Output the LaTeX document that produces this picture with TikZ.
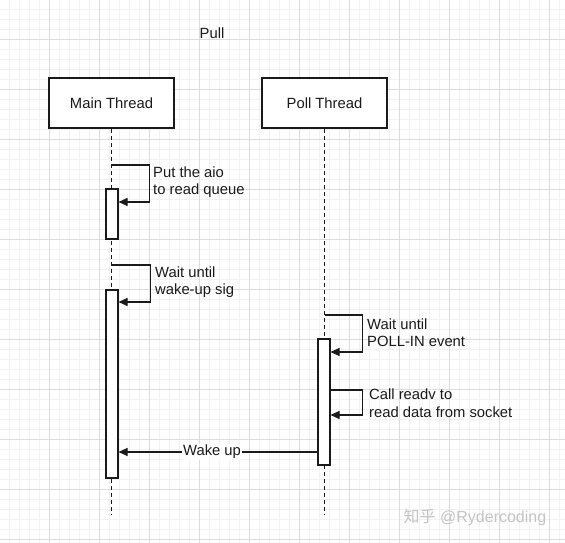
\documentclass[tikz,border=0pt]{standalone}
\usepackage{fontspec}
\setmainfont{Liberation Sans}
\newfontfamily\cjk{Noto Sans CJK SC}
\usetikzlibrary{arrows.meta}
\definecolor{gminor}{HTML}{F1F1F1}
\definecolor{gmajor}{HTML}{DCDCDC}
\definecolor{ink}{HTML}{1A1A1A}
\definecolor{wm}{HTML}{C4C4C4}
\begin{document}
\begin{tikzpicture}[x=1pt,y=-1pt,
  minorgrid/.style={draw=gminor,line width=0.5pt},
  majorgrid/.style={draw=gmajor,line width=0.7pt},
  thread/.style={draw=ink,fill=white,line width=1.1pt,minimum width=125pt,minimum height=50pt,inner sep=0pt,font=\fontsize{14.8pt}{17.5pt}\selectfont,text=ink},
  act/.style={draw=ink,fill=white,line width=1.1pt,minimum width=12pt,inner sep=0pt},
  life/.style={draw=ink,line width=1.1pt,dash pattern=on 4pt off 3pt},
  msg/.style={draw=ink,line width=1.1pt,-{Triangle[length=9pt,width=8pt]}},
  lbl/.style={inner sep=0pt,align=left,anchor=west,font=\fontsize{14.8pt}{17.5pt}\selectfont,text=ink}
]
\useasboundingbox (0,0) rectangle (565,543);
\fill[white] (0,0) rectangle (565,543);
% grid
\foreach \x in {9,19,...,559} \draw[minorgrid] (\x,0) -- (\x,543);
\foreach \y in {9,19,...,539} \draw[minorgrid] (0,\y) -- (565,\y);
\foreach \x in {49,99,...,549} \draw[majorgrid] (\x,0) -- (\x,543);
\foreach \y in {39,89,...,539} \draw[majorgrid] (0,\y) -- (565,\y);

% title
\node[lbl,anchor=center] (title) at (212,33) {Pull};

% thread boxes
\node[thread] (main) at (111.5,103) {Main Thread};
\node[thread] (poll) at (324.5,103) {Poll Thread};

% lifelines
\coordinate (mainend) at (111.5,515);
\coordinate (pollend) at (324.5,515);
\draw[life] (main.south) -- (mainend);
\draw[life] (poll.south) -- (pollend);

% activations
\node[act,minimum height=50pt] (a1) at (112,214) {};
\node[act,minimum height=188pt] (a2) at (112,384) {};
\node[act,minimum height=126pt] (p1) at (324,402) {};

% self message 1
\coordinate (s1) at (111.5,165);
\draw[msg] (s1) -- ++(38,0) -- ++(0,37) coordinate (k1) -- (k1 -| a1.east);
\node[lbl] (l1) at (153,182) {Put the aio\\to read queue};

% self message 2
\coordinate (s2) at (111.5,265);
\draw[msg] (s2) -- ++(39,0) -- ++(0,37) coordinate (k2) -- (k2 -| a2.east);
\node[lbl] (l2) at (155,282) {Wait until\\wake-up sig};

% self message 3
\coordinate (s3) at (324.5,315);
\draw[msg] (s3) -- ++(38,0) -- ++(0,37) coordinate (k3) -- (k3 -| p1.east);
\node[lbl] (l3) at (367,332.5) {Wait until\\POLL-IN event};

% self message 4
\coordinate (s4) at (p1.east |- 0,390);
\draw[msg] (s4) -- ++(32,0) -- ++(0,25) coordinate (k4) -- (k4 -| p1.east);
\node[lbl] (l4) at (369,403) {Call readv to\\read data from socket};

% wake up
\coordinate (w) at (p1.west |- 0,452);
\draw[msg] (w) -- (w -| a2.east) node[pos=0.53,fill=white,inner sep=1pt,font=\fontsize{14.8pt}{17.5pt}\selectfont,text=ink] (wl) {Wake up};

% watermark
\node[inner sep=0pt,text=wm,font=\fontsize{16pt}{18pt}\selectfont] (wmk) at (475,517) {{\cjk 知乎} @Rydercoding};
\end{tikzpicture}
\end{document}
